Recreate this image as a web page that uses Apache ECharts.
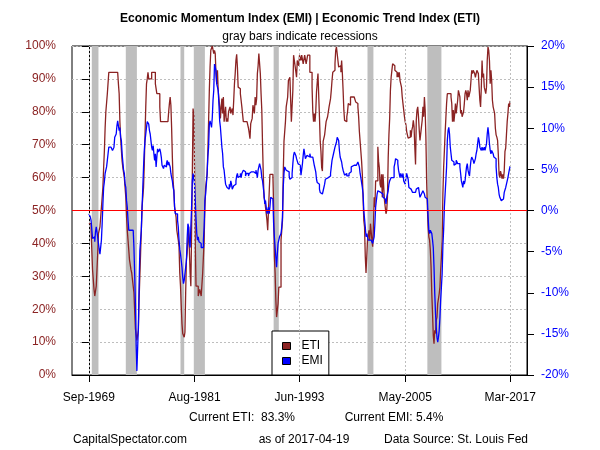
<!DOCTYPE html>
<html><head><meta charset="utf-8">
<script src="https://cdn.jsdelivr.net/npm/echarts@6/dist/echarts.min.js"></script>
<style>html,body{margin:0;padding:0;background:#fff}#c{width:600px;height:450px}</style>
</head><body><div id="c"></div>
<script>
// x values are months counted from Sep-1969
const xTickMonths = [0, 143, 285, 428, 570];
const xTickLabels = ['Sep-1969', 'Aug-1981', 'Jun-1993', 'May-2005', 'Mar-2017'];
const recessionStart = [4, 50, 124, 142, 250, 377, 458];
const recessionEnd   = [13, 65, 129, 157, 257, 385, 477];

// Economic Trend Index (%), [month, value]
const etiData = [
[0,46],[3,44],[5,32],[7,26],[8,24],[10,27],[11,32],[12,37],[13,43],[15,45],[17,51],[19,57],[20,63],[21,68],[22,75],[23,80],[25,85.5],[27,92],[39,92],[40,88.5],[41,85.5],[42,77],[43,72],[45,65],[46,63],[48,60],[49,57],[50,54],[51,48],[52,44],[54,38],[55,35],[57,32],[58,31],[59,29],[61,25],[63,14],[65,10.5],[66,10],[67,13.6],[68,23],[70,37],[71,44],[72,51],[74,57],[75,64],[76,73],[77,81.5],[78,88.5],[79,90],[80,92],[81,90],[85,92],[90,88.5],[92,85.5],[96,81.5],[97,77],[107,77],[108,80],[109,82.5],[110,84.5],[111,82],[112,75],[113,66],[114,59],[115,56],[116,51],[118,48],[119,44],[121,41],[122,39],[123,31],[124,27],[125,21],[126,15.6],[127,12.6],[129,11.5],[130,13],[131,25],[132,35],[133,37],[134,41],[135,45],[136,38],[137,31],[138,27],[139,43],[140,61],[141,81],[142,79],[143,62],[144,40],[145,27],[148,24],[150,26],[152,24],[154,31],[156,41],[157,51],[158,57],[160,61],[161,68],[162,77],[163,86.5],[164,93.6],[165,98.7],[167,100],[169,97.7],[170,98.7],[171,97.7],[172,91.6],[173,88.5],[174,92.6],[175,86.5],[177,81.5],[178,78],[179,81.5],[180,84],[181,79.5],[182,84.5],[183,77],[185,81.5],[186,77],[187,78],[188,77],[189,80],[191,81.5],[192,79.5],[194,81],[195,79],[196,83.5],[197,88.5],[198,91.6],[199,95.6],[200,97.5],[201,93.6],[202,87.5],[204,87],[205,85.5],[206,83.5],[207,81.5],[209,77],[214,77],[216,75],[217,73.5],[218,71.8],[219,76.4],[221,78],[222,82],[223,81.5],[224,79.5],[225,84.5],[226,82],[227,84],[228,91.6],[229,94],[230,97.7],[232,91.6],[233,85.5],[234,80.5],[235,70],[236,61],[237,54],[238,53],[240,49],[241,47],[242,44],[243,50],[245,61],[249,61],[250,51],[251,36],[252,31],[253,22.7],[254,17.6],[256,21.7],[257,26.7],[260,41],[262,47],[263,61],[264,71],[266,77],[267,81.5],[269,84.5],[270,89.5],[272,90.5],[274,77],[275,77],[276,86.5],[277,97.2],[279,94],[281,90.5],[282,95.6],[284,94],[285,97.2],[287,95.6],[288,97.2],[290,94.6],[292,97.2],[294,94.6],[296,97.2],[299,92],[302,87.5],[303,80],[304,77],[305,79.5],[306,77],[307,80],[308,86],[309,89],[310,91.6],[312,78.5],[313,71],[314,68],[315,63],[316,62],[317,71],[319,73],[320,75],[321,77],[323,78.5],[325,81.5],[327,84],[328,86.5],[329,89.5],[330,92],[332,92.6],[333,94.6],[334,98.7],[335,99.7],[337,95.6],[338,93.6],[340,94],[341,92],[342,95.6],[343,91.6],[344,86.5],[345,80.5],[346,77.4],[348,77],[349,78.5],[350,80],[351,82.5],[353,82],[354,84.5],[359,84.5],[361,83],[363,82.5],[364,81.5],[365,78.5],[366,74],[367,71],[368,68],[369,65],[370,61],[371,54],[372,47],[373,45],[374,36],[375,31],[376,36],[377,41],[379,44],[380,41],[381,46],[383,41],[384,39],[385,45],[386,54],[387,51],[388,59],[390,59],[391,69.4],[392,65],[393,63],[394,58],[395,57],[396,61],[397,54],[398,61],[399,57],[400,53],[401,51],[402,49],[403,50],[404,54],[405,66],[406,73],[407,78],[408,86.5],[409,90.5],[410,92.6],[411,94.6],[413,94],[414,92.6],[416,92],[417,90.5],[418,92],[419,90.5],[420,92],[421,89.5],[423,87.5],[424,84.5],[425,82.5],[426,80.5],[427,78.5],[428,77],[429,76],[430,74],[432,72],[433,72.3],[435,74.4],[436,72.3],[437,74.4],[438,75.4],[439,77.4],[440,75.4],[441,69.3],[442,64],[443,77.4],[444,80.5],[445,81.5],[446,78.5],[447,74.4],[448,71.3],[450,75.4],[451,77.4],[452,81.5],[453,78.5],[454,84.5],[455,80.5],[456,72.3],[457,59],[458,51],[459,45],[460,42],[461,41],[462,38],[463,33],[464,24.7],[465,18.6],[466,12],[467,9.5],[468,13.6],[469,12.6],[470,16.6],[471,17.6],[472,21.7],[474,24.7],[475,26.7],[476,31.8],[477,35.8],[478,41],[479,55],[480,63],[481,68],[482,73.4],[483,78],[484,82.5],[485,85.5],[490,84.5],[491,82.5],[492,77],[493,80.5],[494,77],[495,79.5],[496,82.5],[497,79.5],[499,83.5],[500,86.5],[502,84.5],[503,79.5],[504,80.5],[505,78.5],[507,80],[508,82.5],[509,85.5],[510,86.5],[511,85.5],[512,83.5],[513,86.5],[514,84.5],[516,86.5],[517,89.5],[518,92.6],[519,91.6],[520,92.6],[522,91.6],[523,90.5],[524,91.6],[525,92.6],[527,91.6],[528,87.5],[529,83.5],[530,81.5],[531,87.5],[532,95.6],[533,90.5],[534,91.6],[535,87.5],[536,86.5],[537,85.5],[538,87.5],[539,95.6],[540,99.7],[541,98.7],[542,95.6],[543,88.5],[544,92.6],[545,89.5],[546,83.5],[547,81.5],[549,79.5],[550,75],[551,73],[552,72.3],[553,71.3],[554,67],[555,61],[556,60],[557,62],[558,61],[559,59.7],[560,61],[561,59.7],[562,62],[563,68],[564,69],[565,73],[566,77],[567,79.5],[568,82.5],[569,81.5],[570,83.3]
];

// Economic Momentum Index (%), [month, value]
const emiData = [
[0,-0.4],[2,-0.8],[3,-1.2],[4,-1.4],[5,-3.4],[6,-3.6],[7,-3.2],[8,-3.8],[9,-2.6],[10,-2],[11,-2.6],[12,-3.3],[13,-4],[14,-4.7],[15,-5.3],[16,-5.3],[17,-3.6],[18,-1.6],[19,0.8],[20,2.8],[21,3.5],[22,4.5],[23,4.9],[24,5.3],[25,6.1],[26,6.9],[27,7.7],[28,7.9],[29,7.7],[30,7.5],[31,7.7],[32,7.3],[34,7.7],[35,8.9],[37,9.3],[38,10.3],[39,10.9],[40,10.7],[41,9.7],[42,10.1],[43,8.9],[44,8.5],[45,6.9],[46,5.9],[47,4.9],[48,4.5],[49,3.2],[50,2.8],[51,1.2],[52,0.4],[53,-1.2],[54,-2.4],[60,-2.4],[61,-4.5],[62,-7.7],[63,-11.3],[64,-16.4],[65,-19.5],[66,-16.8],[67,-14.2],[68,-9],[69,-4.9],[70,-3.6],[71,-2.4],[72,0.4],[73,2.8],[74,5.3],[75,7.3],[76,8.5],[77,9.3],[78,10.1],[79,10.8],[80,10.9],[81,10.5],[82,9.7],[83,9.3],[84,8.5],[85,7.7],[86,7.3],[87,7.9],[88,6.9],[89,6.1],[90,6.9],[91,5.3],[92,6.5],[93,7.5],[94,7.1],[95,7.3],[96,7.5],[97,7.1],[98,6.5],[99,5.5],[100,5.7],[101,5.1],[102,5.5],[104,5.3],[105,5.7],[106,6.1],[107,5.5],[108,5.9],[110,5.3],[111,4.5],[112,4],[113,3.6],[114,2.8],[115,2.4],[116,0.4],[117,-0.4],[118,-0.2],[119,-0.4],[120,-1.2],[121,-2],[122,-3.6],[123,-4.7],[124,-5.3],[125,-6.1],[126,-6.9],[127,-8.1],[128,-8.9],[129,-8.5],[130,-7.7],[131,-6.9],[132,-6.1],[133,-3.4],[134,-1.6],[135,-2],[136,-4],[137,-4.5],[138,-2],[139,0.4],[140,3.6],[141,4.5],[142,4.7],[143,3.2],[144,1.2],[145,-1],[146,-2.8],[147,-3.6],[148,-3.2],[149,-3.8],[150,-3.6],[151,-4],[152,-4.5],[153,-4.3],[154,-4.5],[155,-3.6],[156,-2],[157,1.2],[158,2],[159,3.2],[160,4.5],[161,6.5],[162,7.7],[163,10.5],[164,10.9],[165,10.5],[166,10.1],[167,11.3],[168,13.4],[169,14.6],[170,17.8],[171,17.4],[172,17],[173,15.4],[174,15],[175,14.6],[176,12.9],[177,10.9],[178,10.1],[179,8.9],[180,7.7],[181,6.9],[182,5.3],[183,4.9],[184,4],[185,3.2],[186,3],[187,2.8],[189,2.6],[190,3.2],[191,2.8],[192,3.6],[193,3.2],[194,2.6],[195,2.8],[196,3],[197,3.2],[199,3.6],[200,4.2],[201,4.5],[202,4],[203,4.2],[205,4.5],[206,4],[207,4.5],[208,4.7],[209,4.9],[211,4.7],[212,4.2],[213,4.5],[214,4.7],[215,4.5],[216,4.2],[217,4.5],[218,4.7],[219,4.7],[220,4.9],[221,4.5],[222,4.7],[223,4.5],[226,4.9],[227,4.5],[228,4],[229,4.9],[230,5.3],[231,5.7],[232,5.9],[233,4.9],[234,4],[235,3.6],[236,2.8],[237,2],[238,0.8],[239,1.2],[240,0.4],[241,-0.4],[242,0],[243,0.4],[244,-0.4],[245,0.4],[246,1.6],[247,1.4],[249,1.2],[250,-1.6],[251,-3.2],[252,-4.5],[253,-5.7],[254,-6.9],[255,-5.3],[256,-4],[257,-3.6],[258,-3.2],[260,-2.8],[261,-2],[262,-0.8],[263,2.8],[264,4.5],[265,5.3],[267,4.9],[269,4.7],[271,4.2],[272,3.8],[273,3.6],[274,4],[275,4.5],[276,5.7],[277,6.7],[278,7.1],[279,6.9],[280,6.7],[281,6.3],[282,6.1],[283,5.7],[284,5.5],[286,5.3],[287,4.3],[288,4.5],[289,5.7],[290,6.7],[291,7.5],[292,6.9],[293,6.3],[295,6.7],[296,6.5],[297,6.5],[299,6.9],[300,6.5],[303,6.5],[304,6.3],[305,5.5],[307,4.7],[308,3.8],[309,3.4],[311,3.2],[312,2.6],[313,2.2],[315,2],[316,1.8],[317,2.4],[319,3.2],[320,3.8],[321,4],[324,4],[325,4.2],[327,4.5],[328,5.3],[329,6.1],[331,6.9],[332,7.1],[333,7.7],[335,8.3],[336,8.9],[338,8.5],[339,7.3],[340,6.5],[342,5.9],[343,5.3],[344,4.9],[346,4.3],[347,4.5],[349,4.2],[351,4.2],[352,4.5],[354,4.7],[355,5.3],[356,5.5],[359,5.3],[360,5.5],[362,5.7],[364,5.9],[366,5.3],[367,4.5],[368,4],[370,2.8],[371,2],[372,0],[374,-2],[375,-3.2],[376,-2.8],[378,-3.6],[379,-3.4],[380,-3.6],[382,-3.4],[383,-3.6],[384,-4],[386,-3.2],[387,-1.6],[388,0.4],[390,2],[391,2.4],[393,2.2],[395,2],[398,1.6],[399,1.4],[401,1.2],[402,0.8],[403,1.6],[405,2.4],[406,3.2],[407,3.6],[409,4],[410,4.2],[411,4],[413,5.3],[414,5.7],[415,6.3],[417,6.1],[418,5.7],[419,4.9],[421,4],[422,4.5],[424,4],[425,4.5],[426,3.6],[428,3.2],[429,4],[430,4.5],[432,3.8],[433,2.8],[434,2.6],[436,2.8],[437,2.4],[438,2.2],[440,2.2],[442,2.4],[443,2.6],[444,2.8],[446,2.8],[447,2.6],[448,1.6],[450,2],[451,1.8],[452,2.4],[454,2],[455,1.6],[456,1.4],[458,1.2],[459,-0.8],[460,-2.4],[461,-2.8],[462,-2.4],[463,-2.6],[464,-2.8],[465,-3.6],[466,-4.5],[467,-6.9],[468,-10.1],[469,-12.5],[470,-14.2],[471,-15.4],[472,-16],[473,-15.4],[474,-14.6],[475,-13],[476,-10.9],[477,-9.3],[478,-7.7],[479,-4.3],[480,-2.4],[481,0.4],[482,2],[483,3.6],[484,5.3],[485,8.5],[486,9.7],[487,10.1],[488,9.3],[489,7.7],[490,6.9],[491,6.1],[492,5.9],[494,5.5],[496,5.7],[497,6.1],[499,5.7],[501,5.7],[502,5.3],[503,4.5],[504,3.6],[505,3.2],[506,2.8],[507,3.6],[508,3.2],[509,3.6],[510,4.5],[511,5.3],[512,5.7],[513,4.9],[514,4.5],[515,4.2],[516,5.3],[517,6.1],[518,6.5],[519,6.7],[520,6.1],[521,5.7],[522,5.5],[523,6.3],[524,6.9],[525,7.3],[526,8.1],[527,8.9],[528,8.5],[529,7.7],[531,7.3],[532,7.7],[533,7.3],[535,7.7],[536,7.3],[537,7.7],[538,8.1],[539,9.3],[540,10.1],[541,9.3],[542,8.1],[543,7.3],[544,6.9],[545,7.3],[546,7.1],[547,6.9],[548,6.5],[549,6.7],[550,6.3],[551,5.3],[552,4],[553,3.2],[554,2.8],[555,2],[556,1.6],[557,1.4],[558,1.2],[559,1.2],[560,1.4],[561,1.6],[562,2.2],[563,2.4],[564,2.8],[565,3.2],[566,3.6],[567,4],[568,4.5],[569,5],[570,5.4]
];

const ETI_COLOR = '#8B2323';
const EMI_COLOR = '#0000FF';
const FONT = "'Liberation Sans', Arial, sans-serif";
const lastEti = etiData[etiData.length - 1][1];
const lastEmi = emiData[emiData.length - 1][1];

const chart = echarts.init(document.getElementById('c'), null, {renderer: 'canvas', width: 600, height: 450});
const option = {
  animation: false,
  backgroundColor: '#ffffff',
  textStyle: {fontFamily: FONT},
  title: [
    {text: 'Economic Momentum Index (EMI) | Economic Trend Index (ETI)', left: 'center', top: 13, padding: 0,
     textStyle: {fontFamily: FONT, fontSize: 12, fontWeight: 'bold', color: '#000'}},
    {text: 'gray bars indicate recessions', left: 'center', top: 31, padding: 0,
     textStyle: {fontFamily: FONT, fontSize: 12, fontWeight: 'normal', color: '#000'}}
  ],
  graphic: [
    {type: 'text', x: 242, y: 418, style: {text: 'Current ETI:  ' + lastEti.toFixed(1) + '%', font: '12px ' + FONT, fill: '#000', textAlign: 'center', textVerticalAlign: 'middle'}},
    {type: 'text', x: 394, y: 418, style: {text: 'Current EMI: ' + lastEmi.toFixed(1) + '%', font: '12px ' + FONT, fill: '#000', textAlign: 'center', textVerticalAlign: 'middle'}},
    {type: 'text', x: 130, y: 440, style: {text: 'CapitalSpectator.com', font: '12px ' + FONT, fill: '#000', textAlign: 'center', textVerticalAlign: 'middle'}},
    {type: 'text', x: 304, y: 440, style: {text: 'as of 2017-04-19', font: '12px ' + FONT, fill: '#000', textAlign: 'center', textVerticalAlign: 'middle'}},
    {type: 'text', x: 456, y: 440, style: {text: 'Data Source: St. Louis Fed', font: '12px ' + FONT, fill: '#000', textAlign: 'center', textVerticalAlign: 'middle'}}
  ],
  legend: {
    orient: 'vertical', left: 272, top: 331,
    data: [{name: 'ETI', icon: 'rect'}, {name: 'EMI', icon: 'rect'}],
    itemWidth: 8, itemHeight: 7, itemGap: 1,
    padding: [8, 6, 7, 10],
    backgroundColor: '#ffffff', borderColor: '#000', borderWidth: 1, borderRadius: 0,
    itemStyle: {borderColor: '#000', borderWidth: 1},
    textStyle: {fontFamily: FONT, fontSize: 12, color: '#000', lineHeight: 14, padding: [0, 0, 0, 6]}
  },
  grid: {left: 72, right: 73, top: 46, bottom: 75, show: true, borderColor: '#000', borderWidth: 1, backgroundColor: 'transparent', containLabel: false},
  xAxis: {
    type: 'value', min: -22.8, max: 592.8,
    axisLine: {show: true, onZero: false, lineStyle: {color: '#000', width: 1}},
    axisTick: {show: true, customValues: xTickMonths, length: 7, lineStyle: {color: '#000'}},
    axisLabel: {show: true, customValues: xTickMonths, margin: 17, color: '#000', fontSize: 12, fontFamily: FONT,
      formatter: function (v) { const i = xTickMonths.indexOf(v); return i >= 0 ? xTickLabels[i] : ''; }},
    splitLine: {show: false}
  },
  yAxis: [
    {type: 'value', position: 'left', min: 0, max: 100, interval: 10,
     axisLine: {show: true, lineStyle: {color: '#000'}},
     axisTick: {show: true, length: 7, lineStyle: {color: '#000'}},
     axisLabel: {formatter: '{value}%', color: ETI_COLOR, fontSize: 12, fontFamily: FONT, margin: 16},
     splitLine: {show: true, lineStyle: {color: '#BEBEBE', type: [2, 2], width: 1}}},
    {type: 'value', position: 'right', min: -20, max: 20, interval: 5,
     axisLine: {show: true, lineStyle: {color: '#000'}},
     axisTick: {show: true, length: 7, lineStyle: {color: '#000'}},
     axisLabel: {formatter: '{value}%', color: EMI_COLOR, fontSize: 12, fontFamily: FONT, margin: 14},
     splitLine: {show: false}}
  ],
  series: [
    {name: 'vgrid', type: 'line', data: [], yAxisIndex: 0, z: 0, silent: true,
     markLine: {silent: true, symbol: 'none', label: {show: false},
       data: xTickMonths.map(m => ({xAxis: m, lineStyle: {color: '#BEBEBE', type: [2, 2], width: 1}}))}},
    {name: 'bg', type: 'line', data: [], yAxisIndex: 0, z: 1, silent: true,
     markArea: {silent: true, itemStyle: {color: '#BEBEBE', opacity: 1},
       data: recessionStart.map((s, i) => [{xAxis: s}, {xAxis: recessionEnd[i]}])},
     markLine: {silent: true, symbol: 'none', label: {show: false},
       data: [{yAxis: 50, lineStyle: {color: '#FF0000', type: 'solid', width: 1.2}}]}},
    {name: 'ETI', type: 'line', step: 'end', data: etiData, yAxisIndex: 0, z: 3,
     showSymbol: false, symbol: 'none', color: ETI_COLOR, lineStyle: {color: ETI_COLOR, width: 1.3}},
    {name: 'EMI', type: 'line', step: 'end', data: emiData, yAxisIndex: 1, z: 4,
     showSymbol: false, symbol: 'none', color: EMI_COLOR, lineStyle: {color: EMI_COLOR, width: 1.3}}
  ]
};
chart.setOption(option);
</script>
</body></html>
